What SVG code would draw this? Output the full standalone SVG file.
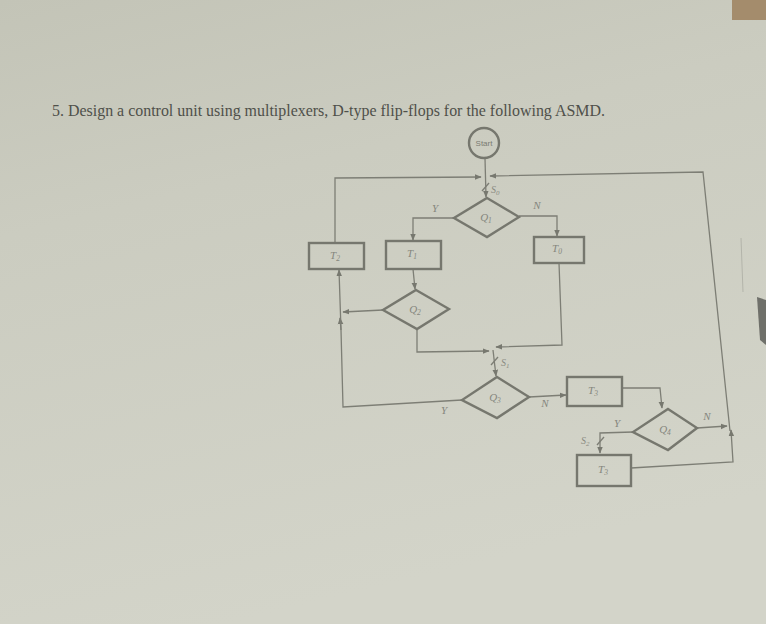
<svg xmlns="http://www.w3.org/2000/svg" width="766" height="624" viewBox="0 0 766 624">
<defs>
<linearGradient id="bg" x1="0" y1="0" x2="0.3" y2="1">
<stop offset="0" stop-color="#c3c4b7"/>
<stop offset="0.35" stop-color="#cbccc0"/>
<stop offset="1" stop-color="#d3d4c9"/>
</linearGradient>
<marker id="ah" viewBox="0 0 10 10" refX="9" refY="5" markerWidth="7" markerHeight="7" orient="auto" markerUnits="userSpaceOnUse">
<path d="M0,1 L10,5 L0,9 Z" fill="#77786f"/>
</marker>
<style>
.box{fill:none;stroke:#76776e;stroke-width:2.4}
.dia{fill:none;stroke:#76776e;stroke-width:2.4}
.ln{fill:none;stroke:#7d7e75;stroke-width:1.3}
.arr{fill:none;stroke:#7d7e75;stroke-width:1.3;marker-end:url(#ah)}
.lbl{font-family:"Liberation Serif",serif;font-style:italic;font-size:11px;fill:#85867d;text-anchor:middle}
.sm{font-family:"Liberation Serif",serif;font-style:italic;font-size:10px;fill:#8a8b82}
</style>
</defs>
<rect width="766" height="624" fill="url(#bg)"/>
<rect x="732" y="0" width="34" height="20" fill="#a48c6c"/>
<path d="M757,297 L766,300 L766,345 L760,340 Z" fill="#6f706a"/>
<line x1="741" y1="238" x2="743" y2="292" stroke="#b3b4aa" stroke-width="1"/>
<text x="52" y="116" font-family="Liberation Serif, serif" font-size="16" fill="#4f504a" textLength="553" lengthAdjust="spacingAndGlyphs">5.  Design a control unit using multiplexers, D-type flip-flops for the following ASMD.</text>

<g id="connectors">
<path class="arr" d="M485,158 L486,197"/>
<path class="ln" d="M482,191 L489,183"/>
<path class="arr" d="M335,243 L335,178 L481,177"/>
<path class="arr" d="M730,431 L703,172 L490,176"/>
<path class="arr" d="M454,218 L413,218 L413,240"/>
<path class="arr" d="M519,216 L557,216 L557,236"/>
<path class="arr" d="M413,269 L415,289"/>
<path class="arr" d="M383,310 L343,312"/>
<path class="arr" d="M341,330 L340,318"/>
<path class="arr" d="M462,400 L343,407 L341,330 L339,270"/>
<path class="arr" d="M417,330 L417,352 L489,351"/>
<path class="arr" d="M559,263 L562,345 L496,347"/>
<path class="arr" d="M493,350 L496,376"/>
<path class="ln" d="M491,365 L498,357"/>
<path class="arr" d="M529,397 L566,395"/>
<path class="arr" d="M622,388 L660,388 L662,408"/>
<path class="arr" d="M697,428 L727,426"/>
<path class="arr" d="M633,432 L600,433 L600,453"/>
<path class="ln" d="M597,445 L604,437"/>
<path class="arr" d="M631,468 L733,462 L731,430"/>
</g>

<g id="start">
<circle cx="484" cy="143" r="15" fill="none" stroke="#76776e" stroke-width="2.4"/>
<text x="484" y="146" font-family="Liberation Sans, sans-serif" font-size="8" fill="#7a7b72" text-anchor="middle">Start</text>
</g>
<g id="s0"><text class="sm" x="491" y="193">S<tspan font-size="7" dy="2">0</tspan></text></g>
<g id="q1">
<path class="dia" d="M487,198 L519,217 L487,237 L454,218 Z"/>
<text class="lbl" x="486" y="221">Q<tspan font-size="7.5" dy="2">1</tspan></text>
<text class="lbl" x="435" y="212">Y</text>
<text class="lbl" x="537" y="209">N</text>
</g>
<g id="t2">
<rect class="box" x="309" y="243" width="55" height="26"/>
<text class="lbl" x="335" y="259">T<tspan font-size="7.5" dy="2">2</tspan></text>
</g>
<g id="t1">
<rect class="box" x="386" y="241" width="55" height="28"/>
<text class="lbl" x="412" y="257">T<tspan font-size="7.5" dy="2">1</tspan></text>
</g>
<g id="t0">
<rect class="box" x="534" y="237" width="50" height="26"/>
<text class="lbl" x="557" y="252">T<tspan font-size="7.5" dy="2">0</tspan></text>
</g>
<g id="q2">
<path class="dia" d="M416,290 L449,309 L417,329 L383,310 Z"/>
<text class="lbl" x="415" y="313">Q<tspan font-size="7.5" dy="2">2</tspan></text>
</g>
<g id="s1"><text class="sm" x="501" y="366">S<tspan font-size="7" dy="2">1</tspan></text></g>
<g id="q3">
<path class="dia" d="M497,377 L529,397 L497,418 L462,400 Z"/>
<text class="lbl" x="495" y="401">Q<tspan font-size="7.5" dy="2">3</tspan></text>
<text class="lbl" x="444" y="414">Y</text>
<text class="lbl" x="545" y="407">N</text>
</g>
<g id="t3">
<rect class="box" x="567" y="377" width="55" height="29"/>
<text class="lbl" x="593" y="394">T<tspan font-size="7.5" dy="2">3</tspan></text>
</g>
<g id="q4">
<path class="dia" d="M668,409 L697,428 L668,450 L633,432 Z"/>
<text class="lbl" x="665" y="433">Q<tspan font-size="7.5" dy="2">4</tspan></text>
<text class="lbl" x="617" y="427">Y</text>
<text class="lbl" x="707" y="420">N</text>
</g>
<g id="s2"><text class="sm" x="581" y="444">S<tspan font-size="7" dy="2">2</tspan></text></g>
<g id="t5">
<rect class="box" x="577" y="455" width="54" height="31"/>
<text class="lbl" x="603" y="473">T<tspan font-size="7.5" dy="2">3</tspan></text>
</g>
</svg>
